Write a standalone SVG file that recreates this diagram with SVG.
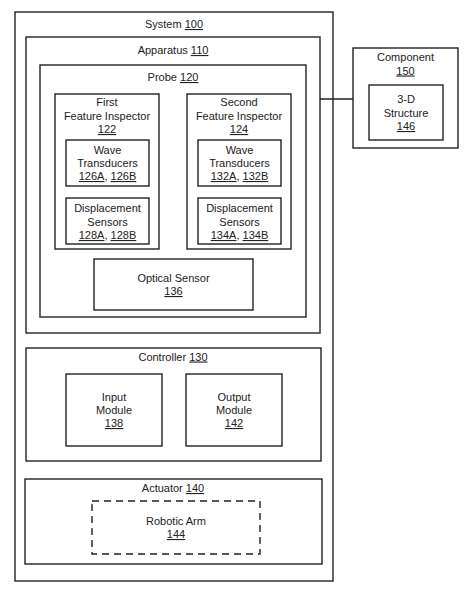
<svg xmlns="http://www.w3.org/2000/svg" width="474" height="592" viewBox="0 0 474 592">
<style>
rect{fill:none;stroke:#222;stroke-width:1.4}
.d{stroke-dasharray:7,5}
text{font-family:"Liberation Sans",Arial,sans-serif;font-size:11px;fill:#222;text-anchor:middle}
.u{text-decoration:underline}
line{stroke:#222;stroke-width:1.4}
</style>
<rect width="474" height="592" fill="#fff" style="fill:#fff;stroke:none"/>
<g id="system"><rect x="15" y="12" width="318" height="569"/><text x="174" y="28">System <tspan class="u">100</tspan></text></g>
<g id="apparatus"><rect x="26" y="37" width="294" height="296"/><text x="173" y="54">Apparatus <tspan class="u">110</tspan></text></g>
<g id="probe"><rect x="40" y="65" width="266" height="252"/><text x="173" y="81">Probe <tspan class="u">120</tspan></text></g>
<g id="fi1"><rect x="55" y="94" width="104" height="155"/><text x="107" y="106">First</text><text x="107" y="120">Feature Inspector</text><text x="107" y="133" class="u">122</text></g>
<g id="wt1"><rect x="66" y="140" width="83" height="46"/><text x="107.5" y="153.5">Wave</text><text x="107.5" y="167">Transducers</text><text x="107.5" y="180"><tspan class="u">126A</tspan>, <tspan class="u">126B</tspan></text></g>
<g id="ds1"><rect x="66" y="198" width="83" height="46"/><text x="107.5" y="212">Displacement</text><text x="107.5" y="225.5">Sensors</text><text x="107.5" y="239"><tspan class="u">128A</tspan>, <tspan class="u">128B</tspan></text></g>
<g id="fi2"><rect x="187" y="94" width="104" height="155"/><text x="239" y="106">Second</text><text x="239" y="120">Feature Inspector</text><text x="239" y="133" class="u">124</text></g>
<g id="wt2"><rect x="198" y="140" width="83" height="46"/><text x="239.5" y="153.5">Wave</text><text x="239.5" y="167">Transducers</text><text x="239.5" y="180"><tspan class="u">132A</tspan>, <tspan class="u">132B</tspan></text></g>
<g id="ds2"><rect x="198" y="198" width="83" height="46"/><text x="239.5" y="212">Displacement</text><text x="239.5" y="225.5">Sensors</text><text x="239.5" y="239"><tspan class="u">134A</tspan>, <tspan class="u">134B</tspan></text></g>
<g id="optical"><rect x="94" y="259" width="159" height="51"/><text x="173.5" y="282">Optical Sensor</text><text x="173.5" y="295" class="u">136</text></g>
<g id="controller"><rect x="26" y="348" width="295" height="113"/><text x="173" y="360.5">Controller <tspan class="u">130</tspan></text></g>
<g id="input"><rect x="66" y="374" width="96" height="72"/><text x="114" y="400.5">Input</text><text x="114" y="414">Module</text><text x="114" y="427" class="u">138</text></g>
<g id="output"><rect x="186" y="374" width="96" height="72"/><text x="234" y="400.5">Output</text><text x="234" y="414">Module</text><text x="234" y="427" class="u">142</text></g>
<g id="actuator"><rect x="25" y="479" width="297" height="85"/><text x="173" y="492">Actuator <tspan class="u">140</tspan></text></g>
<g id="arm"><rect x="92" y="501" width="168" height="53" class="d"/><text x="176" y="524.5">Robotic Arm</text><text x="176" y="538" class="u">144</text></g>
<g id="component"><rect x="353" y="48" width="105" height="100"/><text x="405.5" y="61">Component</text><text x="405.5" y="74.5" class="u">150</text></g>
<g id="structure"><rect x="369" y="85" width="74" height="55"/><text x="406" y="103">3-D</text><text x="406" y="116.5">Structure</text><text x="406" y="130" class="u">146</text></g>
<g id="connectors"><line x1="320" y1="99" x2="353" y2="99"/></g>
</svg>
